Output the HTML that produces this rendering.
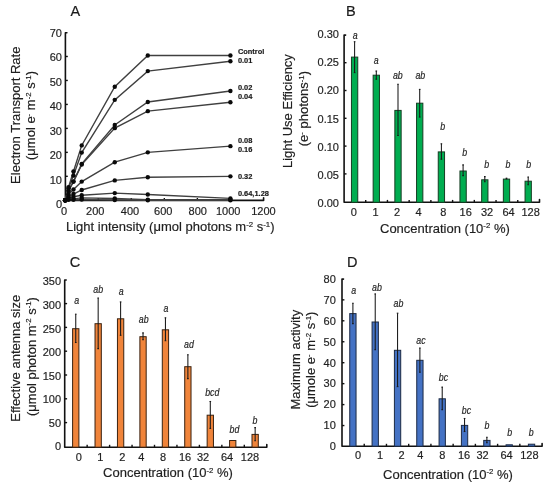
<!DOCTYPE html>
<html><head><meta charset="utf-8"><style>
html,body{margin:0;padding:0;background:#fff;}
svg{display:block;font-family:"Liberation Sans", sans-serif;filter:blur(0.3px);}
text{stroke:#1f1f1f;stroke-width:0.18px;}
</style></head><body>
<svg width="550" height="488" viewBox="0 0 550 488">
<rect width="550" height="488" fill="#fff"/>
<path d="M66.90,32.71 L65.40,32.71 L65.40,200.40 L263.60,200.40 L263.60,197.70" fill="none" stroke="#111" stroke-width="1.6" stroke-linejoin="round" stroke-linecap="round"/>
<line x1="65.40" y1="176.33" x2="67.80" y2="176.33" stroke="#111" stroke-width="1.4"/>
<line x1="65.40" y1="152.36" x2="67.80" y2="152.36" stroke="#111" stroke-width="1.4"/>
<line x1="65.40" y1="128.39" x2="67.80" y2="128.39" stroke="#111" stroke-width="1.4"/>
<line x1="65.40" y1="104.42" x2="67.80" y2="104.42" stroke="#111" stroke-width="1.4"/>
<line x1="65.40" y1="80.45" x2="67.80" y2="80.45" stroke="#111" stroke-width="1.4"/>
<line x1="65.40" y1="56.48" x2="67.80" y2="56.48" stroke="#111" stroke-width="1.4"/>
<line x1="98.24" y1="200.40" x2="98.24" y2="198.00" stroke="#111" stroke-width="1.4"/>
<line x1="131.28" y1="200.40" x2="131.28" y2="198.00" stroke="#111" stroke-width="1.4"/>
<line x1="164.32" y1="200.40" x2="164.32" y2="198.00" stroke="#111" stroke-width="1.4"/>
<line x1="197.36" y1="200.40" x2="197.36" y2="198.00" stroke="#111" stroke-width="1.4"/>
<line x1="230.40" y1="200.40" x2="230.40" y2="198.00" stroke="#111" stroke-width="1.4"/>
<text x="62.00" y="208.30" font-size="11" text-anchor="end" font-weight="normal" font-style="normal" fill="#1f1f1f" >0</text>
<text x="62.00" y="183.80" font-size="11" text-anchor="end" font-weight="normal" font-style="normal" fill="#1f1f1f" >10</text>
<text x="62.00" y="159.30" font-size="11" text-anchor="end" font-weight="normal" font-style="normal" fill="#1f1f1f" >20</text>
<text x="62.00" y="134.80" font-size="11" text-anchor="end" font-weight="normal" font-style="normal" fill="#1f1f1f" >30</text>
<text x="62.00" y="110.30" font-size="11" text-anchor="end" font-weight="normal" font-style="normal" fill="#1f1f1f" >40</text>
<text x="62.00" y="85.80" font-size="11" text-anchor="end" font-weight="normal" font-style="normal" fill="#1f1f1f" >50</text>
<text x="62.00" y="61.30" font-size="11" text-anchor="end" font-weight="normal" font-style="normal" fill="#1f1f1f" >60</text>
<text x="62.00" y="36.80" font-size="11" text-anchor="end" font-weight="normal" font-style="normal" fill="#1f1f1f" >70</text>
<text x="64.00" y="214.90" font-size="11" text-anchor="middle" font-weight="normal" font-style="normal" fill="#1f1f1f" >0</text>
<text x="95.20" y="214.90" font-size="11" text-anchor="middle" font-weight="normal" font-style="normal" fill="#1f1f1f" >200</text>
<text x="130.00" y="214.90" font-size="11" text-anchor="middle" font-weight="normal" font-style="normal" fill="#1f1f1f" >400</text>
<text x="163.30" y="214.90" font-size="11" text-anchor="middle" font-weight="normal" font-style="normal" fill="#1f1f1f" >600</text>
<text x="197.80" y="214.90" font-size="11" text-anchor="middle" font-weight="normal" font-style="normal" fill="#1f1f1f" >800</text>
<text x="228.20" y="214.90" font-size="11" text-anchor="middle" font-weight="normal" font-style="normal" fill="#1f1f1f" >1000</text>
<text x="263.40" y="214.90" font-size="11" text-anchor="middle" font-weight="normal" font-style="normal" fill="#1f1f1f" >1200</text>
<polyline points="65.20,200.30 68.50,187.12 73.46,171.54 81.72,145.41 114.76,86.68 147.80,55.52 230.40,55.52" fill="none" stroke="#404040" stroke-width="1.4"/>
<polyline points="65.20,200.30 68.50,188.31 73.46,175.61 81.72,152.60 114.76,99.87 147.80,71.10 230.40,61.27" fill="none" stroke="#404040" stroke-width="1.4"/>
<polyline points="65.20,200.30 68.50,190.71 73.46,181.60 81.72,163.87 114.76,125.03 147.80,102.02 230.40,91.00" fill="none" stroke="#404040" stroke-width="1.4"/>
<polyline points="65.20,200.30 68.50,190.71 73.46,181.60 81.72,164.58 114.76,128.15 147.80,111.13 230.40,102.26" fill="none" stroke="#404040" stroke-width="1.4"/>
<polyline points="65.20,200.30 68.50,194.31 73.46,189.51 81.72,181.60 114.76,162.19 147.80,152.36 230.40,146.13" fill="none" stroke="#404040" stroke-width="1.4"/>
<polyline points="65.20,200.30 68.50,196.70 73.46,194.07 81.72,189.99 114.76,180.40 147.80,177.29 230.40,176.33" fill="none" stroke="#404040" stroke-width="1.4"/>
<polyline points="65.20,200.30 68.50,197.90 73.46,196.70 81.72,195.27 114.76,193.11 147.80,194.55 230.40,198.38" fill="none" stroke="#404040" stroke-width="1.4"/>
<polyline points="65.20,200.30 68.50,199.10 73.46,198.86 81.72,197.90 114.76,198.50 147.80,199.58 230.40,199.70" fill="none" stroke="#404040" stroke-width="1.4"/>
<polyline points="65.20,200.30 68.50,199.82 73.46,199.82 81.72,199.58 114.76,200.06 147.80,200.30 230.40,200.30" fill="none" stroke="#404040" stroke-width="1.4"/>
<circle cx="65.20" cy="200.30" r="2.2" fill="#0a0a0a"/>
<circle cx="68.50" cy="187.12" r="2.2" fill="#0a0a0a"/>
<circle cx="73.46" cy="171.54" r="2.2" fill="#0a0a0a"/>
<circle cx="81.72" cy="145.41" r="2.2" fill="#0a0a0a"/>
<circle cx="114.76" cy="86.68" r="2.2" fill="#0a0a0a"/>
<circle cx="147.80" cy="55.52" r="2.2" fill="#0a0a0a"/>
<circle cx="230.40" cy="55.52" r="2.2" fill="#0a0a0a"/>
<circle cx="65.20" cy="200.30" r="2.2" fill="#0a0a0a"/>
<circle cx="68.50" cy="188.31" r="2.2" fill="#0a0a0a"/>
<circle cx="73.46" cy="175.61" r="2.2" fill="#0a0a0a"/>
<circle cx="81.72" cy="152.60" r="2.2" fill="#0a0a0a"/>
<circle cx="114.76" cy="99.87" r="2.2" fill="#0a0a0a"/>
<circle cx="147.80" cy="71.10" r="2.2" fill="#0a0a0a"/>
<circle cx="230.40" cy="61.27" r="2.2" fill="#0a0a0a"/>
<circle cx="65.20" cy="200.30" r="2.2" fill="#0a0a0a"/>
<circle cx="68.50" cy="190.71" r="2.2" fill="#0a0a0a"/>
<circle cx="73.46" cy="181.60" r="2.2" fill="#0a0a0a"/>
<circle cx="81.72" cy="163.87" r="2.2" fill="#0a0a0a"/>
<circle cx="114.76" cy="125.03" r="2.2" fill="#0a0a0a"/>
<circle cx="147.80" cy="102.02" r="2.2" fill="#0a0a0a"/>
<circle cx="230.40" cy="91.00" r="2.2" fill="#0a0a0a"/>
<circle cx="65.20" cy="200.30" r="2.2" fill="#0a0a0a"/>
<circle cx="68.50" cy="190.71" r="2.2" fill="#0a0a0a"/>
<circle cx="73.46" cy="181.60" r="2.2" fill="#0a0a0a"/>
<circle cx="81.72" cy="164.58" r="2.2" fill="#0a0a0a"/>
<circle cx="114.76" cy="128.15" r="2.2" fill="#0a0a0a"/>
<circle cx="147.80" cy="111.13" r="2.2" fill="#0a0a0a"/>
<circle cx="230.40" cy="102.26" r="2.2" fill="#0a0a0a"/>
<circle cx="65.20" cy="200.30" r="2.2" fill="#0a0a0a"/>
<circle cx="68.50" cy="194.31" r="2.2" fill="#0a0a0a"/>
<circle cx="73.46" cy="189.51" r="2.2" fill="#0a0a0a"/>
<circle cx="81.72" cy="181.60" r="2.2" fill="#0a0a0a"/>
<circle cx="114.76" cy="162.19" r="2.2" fill="#0a0a0a"/>
<circle cx="147.80" cy="152.36" r="2.2" fill="#0a0a0a"/>
<circle cx="230.40" cy="146.13" r="2.2" fill="#0a0a0a"/>
<circle cx="65.20" cy="200.30" r="2.2" fill="#0a0a0a"/>
<circle cx="68.50" cy="196.70" r="2.2" fill="#0a0a0a"/>
<circle cx="73.46" cy="194.07" r="2.2" fill="#0a0a0a"/>
<circle cx="81.72" cy="189.99" r="2.2" fill="#0a0a0a"/>
<circle cx="114.76" cy="180.40" r="2.2" fill="#0a0a0a"/>
<circle cx="147.80" cy="177.29" r="2.2" fill="#0a0a0a"/>
<circle cx="230.40" cy="176.33" r="2.2" fill="#0a0a0a"/>
<circle cx="65.20" cy="200.30" r="2.2" fill="#0a0a0a"/>
<circle cx="68.50" cy="197.90" r="2.2" fill="#0a0a0a"/>
<circle cx="73.46" cy="196.70" r="2.2" fill="#0a0a0a"/>
<circle cx="81.72" cy="195.27" r="2.2" fill="#0a0a0a"/>
<circle cx="114.76" cy="193.11" r="2.2" fill="#0a0a0a"/>
<circle cx="147.80" cy="194.55" r="2.2" fill="#0a0a0a"/>
<circle cx="230.40" cy="198.38" r="2.2" fill="#0a0a0a"/>
<circle cx="65.20" cy="200.30" r="2.2" fill="#0a0a0a"/>
<circle cx="68.50" cy="199.10" r="2.2" fill="#0a0a0a"/>
<circle cx="73.46" cy="198.86" r="2.2" fill="#0a0a0a"/>
<circle cx="81.72" cy="197.90" r="2.2" fill="#0a0a0a"/>
<circle cx="114.76" cy="198.50" r="2.2" fill="#0a0a0a"/>
<circle cx="147.80" cy="199.58" r="2.2" fill="#0a0a0a"/>
<circle cx="230.40" cy="199.70" r="2.2" fill="#0a0a0a"/>
<circle cx="65.20" cy="200.30" r="2.2" fill="#0a0a0a"/>
<circle cx="68.50" cy="199.82" r="2.2" fill="#0a0a0a"/>
<circle cx="73.46" cy="199.82" r="2.2" fill="#0a0a0a"/>
<circle cx="81.72" cy="199.58" r="2.2" fill="#0a0a0a"/>
<circle cx="114.76" cy="200.06" r="2.2" fill="#0a0a0a"/>
<circle cx="147.80" cy="200.30" r="2.2" fill="#0a0a0a"/>
<circle cx="230.40" cy="200.30" r="2.2" fill="#0a0a0a"/>
<text x="237.90" y="54.10" font-size="7.45" text-anchor="start" font-weight="bold" font-style="normal" fill="#1a1a1a" >Control</text>
<text x="237.90" y="63.00" font-size="7.45" text-anchor="start" font-weight="bold" font-style="normal" fill="#1a1a1a" >0.01</text>
<text x="237.90" y="89.90" font-size="7.45" text-anchor="start" font-weight="bold" font-style="normal" fill="#1a1a1a" >0.02</text>
<text x="237.90" y="98.50" font-size="7.45" text-anchor="start" font-weight="bold" font-style="normal" fill="#1a1a1a" >0.04</text>
<text x="237.90" y="143.00" font-size="7.45" text-anchor="start" font-weight="bold" font-style="normal" fill="#1a1a1a" >0.08</text>
<text x="237.90" y="152.00" font-size="7.45" text-anchor="start" font-weight="bold" font-style="normal" fill="#1a1a1a" >0.16</text>
<text x="237.90" y="178.50" font-size="7.45" text-anchor="start" font-weight="bold" font-style="normal" fill="#1a1a1a" >0.32</text>
<text x="237.90" y="196.40" font-size="7.45" text-anchor="start" font-weight="bold" font-style="normal" fill="#1a1a1a" >0.64,1.28</text>
<text x="70.60" y="16.30" font-size="14.5" text-anchor="start" font-weight="normal" font-style="normal" fill="#1a1a1a" >A</text>
<text transform="translate(20.20,115.25) rotate(-90)" x="0" y="0" font-size="13" text-anchor="middle" fill="#1f1f1f">Electron Transport Rate</text>
<text transform="translate(35.10,115.50) rotate(-90)" x="0" y="0" font-size="13" text-anchor="middle" fill="#1f1f1f">(μmol e<tspan font-size="7.8" dy="-4.2">-</tspan><tspan dy="4.2"> m<tspan font-size="7.8" dy="-4.2">-2</tspan><tspan dy="4.2"> s<tspan font-size="7.8" dy="-4.2">-1</tspan><tspan dy="4.2">)</tspan></tspan></tspan></text>
<text x="66" y="231.4" font-size="13" fill="#1f1f1f">Light intensity (μmol photons m<tspan font-size="7.8" dy="-4.2">-2</tspan><tspan dy="4.2"> s<tspan font-size="7.8" dy="-4.2">-1</tspan><tspan dy="4.2">)</tspan></tspan></text>
<path d="M345.60,35.10 L344.10,35.10 L344.10,202.30 L539.50,202.30 L539.50,199.60" fill="none" stroke="#111" stroke-width="1.6" stroke-linejoin="round" stroke-linecap="round"/>
<line x1="344.10" y1="173.90" x2="346.50" y2="173.90" stroke="#111" stroke-width="1.4"/>
<line x1="344.10" y1="146.10" x2="346.50" y2="146.10" stroke="#111" stroke-width="1.4"/>
<line x1="344.10" y1="118.30" x2="346.50" y2="118.30" stroke="#111" stroke-width="1.4"/>
<line x1="344.10" y1="90.50" x2="346.50" y2="90.50" stroke="#111" stroke-width="1.4"/>
<line x1="344.10" y1="62.70" x2="346.50" y2="62.70" stroke="#111" stroke-width="1.4"/>
<line x1="365.72" y1="202.30" x2="365.72" y2="199.90" stroke="#111" stroke-width="1.4"/>
<line x1="387.44" y1="202.30" x2="387.44" y2="199.90" stroke="#111" stroke-width="1.4"/>
<line x1="409.16" y1="202.30" x2="409.16" y2="199.90" stroke="#111" stroke-width="1.4"/>
<line x1="430.88" y1="202.30" x2="430.88" y2="199.90" stroke="#111" stroke-width="1.4"/>
<line x1="452.60" y1="202.30" x2="452.60" y2="199.90" stroke="#111" stroke-width="1.4"/>
<line x1="474.32" y1="202.30" x2="474.32" y2="199.90" stroke="#111" stroke-width="1.4"/>
<line x1="496.04" y1="202.30" x2="496.04" y2="199.90" stroke="#111" stroke-width="1.4"/>
<line x1="517.76" y1="202.30" x2="517.76" y2="199.90" stroke="#111" stroke-width="1.4"/>
<text x="339.00" y="207.00" font-size="11" text-anchor="end" font-weight="normal" font-style="normal" fill="#1f1f1f" >0.00</text>
<text x="339.00" y="178.84" font-size="11" text-anchor="end" font-weight="normal" font-style="normal" fill="#1f1f1f" >0.05</text>
<text x="339.00" y="150.67" font-size="11" text-anchor="end" font-weight="normal" font-style="normal" fill="#1f1f1f" >0.10</text>
<text x="339.00" y="122.50" font-size="11" text-anchor="end" font-weight="normal" font-style="normal" fill="#1f1f1f" >0.15</text>
<text x="339.00" y="94.34" font-size="11" text-anchor="end" font-weight="normal" font-style="normal" fill="#1f1f1f" >0.20</text>
<text x="339.00" y="66.17" font-size="11" text-anchor="end" font-weight="normal" font-style="normal" fill="#1f1f1f" >0.25</text>
<text x="339.00" y="38.01" font-size="11" text-anchor="end" font-weight="normal" font-style="normal" fill="#1f1f1f" >0.30</text>
<text x="353.90" y="216.00" font-size="11" text-anchor="middle" font-weight="normal" font-style="normal" fill="#1f1f1f" >0</text>
<text x="375.50" y="216.00" font-size="11" text-anchor="middle" font-weight="normal" font-style="normal" fill="#1f1f1f" >1</text>
<text x="397.10" y="216.00" font-size="11" text-anchor="middle" font-weight="normal" font-style="normal" fill="#1f1f1f" >2</text>
<text x="418.50" y="216.00" font-size="11" text-anchor="middle" font-weight="normal" font-style="normal" fill="#1f1f1f" >4</text>
<text x="443.40" y="216.00" font-size="11" text-anchor="middle" font-weight="normal" font-style="normal" fill="#1f1f1f" >8</text>
<text x="465.70" y="216.00" font-size="11" text-anchor="middle" font-weight="normal" font-style="normal" fill="#1f1f1f" >16</text>
<text x="487.00" y="216.00" font-size="11" text-anchor="middle" font-weight="normal" font-style="normal" fill="#1f1f1f" >32</text>
<text x="508.60" y="216.00" font-size="11" text-anchor="middle" font-weight="normal" font-style="normal" fill="#1f1f1f" >64</text>
<text x="530.60" y="216.00" font-size="11" text-anchor="middle" font-weight="normal" font-style="normal" fill="#1f1f1f" >128</text>
<rect x="351.45" y="57.10" width="6.30" height="145.20" fill="#00ad50" stroke="#163d22" stroke-width="1"/>
<rect x="373.15" y="75.20" width="6.30" height="127.10" fill="#00ad50" stroke="#163d22" stroke-width="1"/>
<rect x="394.85" y="110.40" width="6.30" height="91.90" fill="#00ad50" stroke="#163d22" stroke-width="1"/>
<rect x="416.55" y="103.20" width="6.30" height="99.10" fill="#00ad50" stroke="#163d22" stroke-width="1"/>
<rect x="438.25" y="151.90" width="6.30" height="50.40" fill="#00ad50" stroke="#163d22" stroke-width="1"/>
<rect x="459.95" y="171.00" width="6.30" height="31.30" fill="#00ad50" stroke="#163d22" stroke-width="1"/>
<rect x="481.65" y="179.80" width="6.30" height="22.50" fill="#00ad50" stroke="#163d22" stroke-width="1"/>
<rect x="503.35" y="179.10" width="6.30" height="23.20" fill="#00ad50" stroke="#163d22" stroke-width="1"/>
<rect x="525.05" y="181.20" width="6.30" height="21.10" fill="#00ad50" stroke="#163d22" stroke-width="1"/>
<line x1="354.60" y1="41.70" x2="354.60" y2="72.60" stroke="#181818" stroke-width="1.05"/>
<line x1="353.80" y1="41.70" x2="355.40" y2="41.70" stroke="#181818" stroke-width="1.1"/>
<line x1="353.80" y1="72.60" x2="355.40" y2="72.60" stroke="#181818" stroke-width="1.1"/>
<line x1="376.30" y1="71.00" x2="376.30" y2="79.20" stroke="#181818" stroke-width="1.05"/>
<line x1="375.50" y1="71.00" x2="377.10" y2="71.00" stroke="#181818" stroke-width="1.1"/>
<line x1="375.50" y1="79.20" x2="377.10" y2="79.20" stroke="#181818" stroke-width="1.1"/>
<line x1="398.00" y1="84.30" x2="398.00" y2="135.50" stroke="#181818" stroke-width="1.05"/>
<line x1="397.20" y1="84.30" x2="398.80" y2="84.30" stroke="#181818" stroke-width="1.1"/>
<line x1="397.20" y1="135.50" x2="398.80" y2="135.50" stroke="#181818" stroke-width="1.1"/>
<line x1="419.70" y1="89.40" x2="419.70" y2="117.10" stroke="#181818" stroke-width="1.05"/>
<line x1="418.90" y1="89.40" x2="420.50" y2="89.40" stroke="#181818" stroke-width="1.1"/>
<line x1="418.90" y1="117.10" x2="420.50" y2="117.10" stroke="#181818" stroke-width="1.1"/>
<line x1="441.40" y1="143.80" x2="441.40" y2="159.20" stroke="#181818" stroke-width="1.05"/>
<line x1="440.60" y1="143.80" x2="442.20" y2="143.80" stroke="#181818" stroke-width="1.1"/>
<line x1="440.60" y1="159.20" x2="442.20" y2="159.20" stroke="#181818" stroke-width="1.1"/>
<line x1="463.10" y1="164.90" x2="463.10" y2="175.60" stroke="#181818" stroke-width="1.05"/>
<line x1="462.30" y1="164.90" x2="463.90" y2="164.90" stroke="#181818" stroke-width="1.1"/>
<line x1="462.30" y1="175.60" x2="463.90" y2="175.60" stroke="#181818" stroke-width="1.1"/>
<line x1="484.80" y1="176.60" x2="484.80" y2="181.70" stroke="#181818" stroke-width="1.05"/>
<line x1="484.00" y1="176.60" x2="485.60" y2="176.60" stroke="#181818" stroke-width="1.1"/>
<line x1="484.00" y1="181.70" x2="485.60" y2="181.70" stroke="#181818" stroke-width="1.1"/>
<line x1="506.50" y1="178.20" x2="506.50" y2="178.90" stroke="#181818" stroke-width="1.05"/>
<line x1="505.70" y1="178.20" x2="507.30" y2="178.20" stroke="#181818" stroke-width="1.1"/>
<line x1="505.70" y1="178.90" x2="507.30" y2="178.90" stroke="#181818" stroke-width="1.1"/>
<line x1="528.20" y1="177.00" x2="528.20" y2="184.70" stroke="#181818" stroke-width="1.05"/>
<line x1="527.40" y1="177.00" x2="529.00" y2="177.00" stroke="#181818" stroke-width="1.1"/>
<line x1="527.40" y1="184.70" x2="529.00" y2="184.70" stroke="#181818" stroke-width="1.1"/>
<text transform="translate(355.20,38.90) scale(0.8,1)" font-size="11" text-anchor="middle" font-style="italic" fill="#1f1f1f" stroke="#1f1f1f" stroke-width="0.3">a</text>
<text transform="translate(376.30,63.50) scale(0.8,1)" font-size="11" text-anchor="middle" font-style="italic" fill="#1f1f1f" stroke="#1f1f1f" stroke-width="0.3">a</text>
<text transform="translate(397.80,78.50) scale(0.8,1)" font-size="11" text-anchor="middle" font-style="italic" fill="#1f1f1f" stroke="#1f1f1f" stroke-width="0.3">ab</text>
<text transform="translate(420.30,78.50) scale(0.8,1)" font-size="11" text-anchor="middle" font-style="italic" fill="#1f1f1f" stroke="#1f1f1f" stroke-width="0.3">ab</text>
<text transform="translate(442.70,130.20) scale(0.8,1)" font-size="11" text-anchor="middle" font-style="italic" fill="#1f1f1f" stroke="#1f1f1f" stroke-width="0.3">b</text>
<text transform="translate(464.80,156.40) scale(0.8,1)" font-size="11" text-anchor="middle" font-style="italic" fill="#1f1f1f" stroke="#1f1f1f" stroke-width="0.3">b</text>
<text transform="translate(486.80,168.10) scale(0.8,1)" font-size="11" text-anchor="middle" font-style="italic" fill="#1f1f1f" stroke="#1f1f1f" stroke-width="0.3">b</text>
<text transform="translate(507.90,167.90) scale(0.8,1)" font-size="11" text-anchor="middle" font-style="italic" fill="#1f1f1f" stroke="#1f1f1f" stroke-width="0.3">b</text>
<text transform="translate(528.80,167.90) scale(0.8,1)" font-size="11" text-anchor="middle" font-style="italic" fill="#1f1f1f" stroke="#1f1f1f" stroke-width="0.3">b</text>
<text x="345.90" y="16.30" font-size="14.5" text-anchor="start" font-weight="normal" font-style="normal" fill="#1a1a1a" >B</text>
<text transform="translate(291.90,111.10) rotate(-90)" x="0" y="0" font-size="13" text-anchor="middle" fill="#1f1f1f">Light Use Efficiency</text>
<text transform="translate(308.10,108.60) rotate(-90)" x="0" y="0" font-size="13" text-anchor="middle" fill="#1f1f1f">(e<tspan font-size="7.8" dy="-4.2">-</tspan><tspan dy="4.2"> photons<tspan font-size="7.8" dy="-4.2">-1</tspan><tspan dy="4.2">)</tspan></tspan></text>
<text x="380" y="232.6" font-size="13" fill="#1f1f1f">Concentration (10<tspan font-size="7.8" dy="-4.2">-2</tspan><tspan dy="4.2"> %)</tspan></text>
<path d="M66.20,280.00 L64.70,280.00 L64.70,447.20 L266.80,447.20 L266.80,444.50" fill="none" stroke="#111" stroke-width="1.6" stroke-linejoin="round" stroke-linecap="round"/>
<line x1="64.70" y1="422.60" x2="67.10" y2="422.60" stroke="#111" stroke-width="1.4"/>
<line x1="64.70" y1="398.80" x2="67.10" y2="398.80" stroke="#111" stroke-width="1.4"/>
<line x1="64.70" y1="375.00" x2="67.10" y2="375.00" stroke="#111" stroke-width="1.4"/>
<line x1="64.70" y1="351.20" x2="67.10" y2="351.20" stroke="#111" stroke-width="1.4"/>
<line x1="64.70" y1="327.40" x2="67.10" y2="327.40" stroke="#111" stroke-width="1.4"/>
<line x1="64.70" y1="303.60" x2="67.10" y2="303.60" stroke="#111" stroke-width="1.4"/>
<line x1="87.15" y1="447.20" x2="87.15" y2="444.80" stroke="#111" stroke-width="1.4"/>
<line x1="109.60" y1="447.20" x2="109.60" y2="444.80" stroke="#111" stroke-width="1.4"/>
<line x1="132.05" y1="447.20" x2="132.05" y2="444.80" stroke="#111" stroke-width="1.4"/>
<line x1="154.50" y1="447.20" x2="154.50" y2="444.80" stroke="#111" stroke-width="1.4"/>
<line x1="176.95" y1="447.20" x2="176.95" y2="444.80" stroke="#111" stroke-width="1.4"/>
<line x1="199.40" y1="447.20" x2="199.40" y2="444.80" stroke="#111" stroke-width="1.4"/>
<line x1="221.85" y1="447.20" x2="221.85" y2="444.80" stroke="#111" stroke-width="1.4"/>
<line x1="244.30" y1="447.20" x2="244.30" y2="444.80" stroke="#111" stroke-width="1.4"/>
<text x="61.10" y="450.30" font-size="11" text-anchor="end" font-weight="normal" font-style="normal" fill="#1f1f1f" >0</text>
<text x="61.10" y="426.75" font-size="11" text-anchor="end" font-weight="normal" font-style="normal" fill="#1f1f1f" >50</text>
<text x="61.10" y="403.21" font-size="11" text-anchor="end" font-weight="normal" font-style="normal" fill="#1f1f1f" >100</text>
<text x="61.10" y="379.67" font-size="11" text-anchor="end" font-weight="normal" font-style="normal" fill="#1f1f1f" >150</text>
<text x="61.10" y="356.12" font-size="11" text-anchor="end" font-weight="normal" font-style="normal" fill="#1f1f1f" >200</text>
<text x="61.10" y="332.57" font-size="11" text-anchor="end" font-weight="normal" font-style="normal" fill="#1f1f1f" >250</text>
<text x="61.10" y="309.03" font-size="11" text-anchor="end" font-weight="normal" font-style="normal" fill="#1f1f1f" >300</text>
<text x="61.10" y="285.49" font-size="11" text-anchor="end" font-weight="normal" font-style="normal" fill="#1f1f1f" >350</text>
<text x="78.80" y="461.30" font-size="11" text-anchor="middle" font-weight="normal" font-style="normal" fill="#1f1f1f" >0</text>
<text x="100.30" y="461.30" font-size="11" text-anchor="middle" font-weight="normal" font-style="normal" fill="#1f1f1f" >1</text>
<text x="122.20" y="461.30" font-size="11" text-anchor="middle" font-weight="normal" font-style="normal" fill="#1f1f1f" >2</text>
<text x="141.20" y="461.30" font-size="11" text-anchor="middle" font-weight="normal" font-style="normal" fill="#1f1f1f" >4</text>
<text x="163.10" y="461.30" font-size="11" text-anchor="middle" font-weight="normal" font-style="normal" fill="#1f1f1f" >8</text>
<text x="185.00" y="461.30" font-size="11" text-anchor="middle" font-weight="normal" font-style="normal" fill="#1f1f1f" >16</text>
<text x="203.00" y="461.30" font-size="11" text-anchor="middle" font-weight="normal" font-style="normal" fill="#1f1f1f" >32</text>
<text x="227.00" y="461.30" font-size="11" text-anchor="middle" font-weight="normal" font-style="normal" fill="#1f1f1f" >64</text>
<text x="250.00" y="461.30" font-size="11" text-anchor="middle" font-weight="normal" font-style="normal" fill="#1f1f1f" >128</text>
<rect x="72.60" y="328.70" width="6.30" height="118.50" fill="#f0843a" stroke="#3a2210" stroke-width="1"/>
<rect x="95.02" y="323.70" width="6.30" height="123.50" fill="#f0843a" stroke="#3a2210" stroke-width="1"/>
<rect x="117.45" y="318.80" width="6.30" height="128.40" fill="#f0843a" stroke="#3a2210" stroke-width="1"/>
<rect x="139.88" y="336.70" width="6.30" height="110.50" fill="#f0843a" stroke="#3a2210" stroke-width="1"/>
<rect x="162.30" y="329.80" width="6.30" height="117.40" fill="#f0843a" stroke="#3a2210" stroke-width="1"/>
<rect x="184.72" y="366.70" width="6.30" height="80.50" fill="#f0843a" stroke="#3a2210" stroke-width="1"/>
<rect x="207.15" y="415.20" width="6.30" height="32.00" fill="#f0843a" stroke="#3a2210" stroke-width="1"/>
<rect x="229.57" y="440.50" width="6.30" height="6.70" fill="#f0843a" stroke="#3a2210" stroke-width="1"/>
<rect x="252.00" y="434.40" width="6.30" height="12.80" fill="#f0843a" stroke="#3a2210" stroke-width="1"/>
<line x1="75.75" y1="314.20" x2="75.75" y2="342.50" stroke="#181818" stroke-width="1.05"/>
<line x1="74.95" y1="314.20" x2="76.55" y2="314.20" stroke="#181818" stroke-width="1.1"/>
<line x1="74.95" y1="342.50" x2="76.55" y2="342.50" stroke="#181818" stroke-width="1.1"/>
<line x1="98.17" y1="298.00" x2="98.17" y2="348.60" stroke="#181818" stroke-width="1.05"/>
<line x1="97.38" y1="298.00" x2="98.97" y2="298.00" stroke="#181818" stroke-width="1.1"/>
<line x1="97.38" y1="348.60" x2="98.97" y2="348.60" stroke="#181818" stroke-width="1.1"/>
<line x1="120.60" y1="301.90" x2="120.60" y2="335.30" stroke="#181818" stroke-width="1.05"/>
<line x1="119.80" y1="301.90" x2="121.40" y2="301.90" stroke="#181818" stroke-width="1.1"/>
<line x1="119.80" y1="335.30" x2="121.40" y2="335.30" stroke="#181818" stroke-width="1.1"/>
<line x1="143.03" y1="332.90" x2="143.03" y2="339.80" stroke="#181818" stroke-width="1.05"/>
<line x1="142.22" y1="332.90" x2="143.83" y2="332.90" stroke="#181818" stroke-width="1.1"/>
<line x1="142.22" y1="339.80" x2="143.83" y2="339.80" stroke="#181818" stroke-width="1.1"/>
<line x1="165.45" y1="317.80" x2="165.45" y2="340.70" stroke="#181818" stroke-width="1.05"/>
<line x1="164.65" y1="317.80" x2="166.25" y2="317.80" stroke="#181818" stroke-width="1.1"/>
<line x1="164.65" y1="340.70" x2="166.25" y2="340.70" stroke="#181818" stroke-width="1.1"/>
<line x1="187.88" y1="354.70" x2="187.88" y2="378.60" stroke="#181818" stroke-width="1.05"/>
<line x1="187.07" y1="354.70" x2="188.68" y2="354.70" stroke="#181818" stroke-width="1.1"/>
<line x1="187.07" y1="378.60" x2="188.68" y2="378.60" stroke="#181818" stroke-width="1.1"/>
<line x1="210.30" y1="401.50" x2="210.30" y2="428.40" stroke="#181818" stroke-width="1.05"/>
<line x1="209.50" y1="401.50" x2="211.10" y2="401.50" stroke="#181818" stroke-width="1.1"/>
<line x1="209.50" y1="428.40" x2="211.10" y2="428.40" stroke="#181818" stroke-width="1.1"/>
<line x1="255.15" y1="427.60" x2="255.15" y2="440.70" stroke="#181818" stroke-width="1.05"/>
<line x1="254.35" y1="427.60" x2="255.95" y2="427.60" stroke="#181818" stroke-width="1.1"/>
<line x1="254.35" y1="440.70" x2="255.95" y2="440.70" stroke="#181818" stroke-width="1.1"/>
<text transform="translate(76.70,303.90) scale(0.8,1)" font-size="11" text-anchor="middle" font-style="italic" fill="#1f1f1f" stroke="#1f1f1f" stroke-width="0.3">a</text>
<text transform="translate(98.20,293.00) scale(0.8,1)" font-size="11" text-anchor="middle" font-style="italic" fill="#1f1f1f" stroke="#1f1f1f" stroke-width="0.3">ab</text>
<text transform="translate(121.10,294.50) scale(0.8,1)" font-size="11" text-anchor="middle" font-style="italic" fill="#1f1f1f" stroke="#1f1f1f" stroke-width="0.3">a</text>
<text transform="translate(143.70,322.70) scale(0.8,1)" font-size="11" text-anchor="middle" font-style="italic" fill="#1f1f1f" stroke="#1f1f1f" stroke-width="0.3">ab</text>
<text transform="translate(166.00,311.90) scale(0.8,1)" font-size="11" text-anchor="middle" font-style="italic" fill="#1f1f1f" stroke="#1f1f1f" stroke-width="0.3">a</text>
<text transform="translate(188.90,348.20) scale(0.8,1)" font-size="11" text-anchor="middle" font-style="italic" fill="#1f1f1f" stroke="#1f1f1f" stroke-width="0.3">ad</text>
<text transform="translate(212.30,395.80) scale(0.8,1)" font-size="11" text-anchor="middle" font-style="italic" fill="#1f1f1f" stroke="#1f1f1f" stroke-width="0.3">bcd</text>
<text transform="translate(234.50,433.00) scale(0.8,1)" font-size="11" text-anchor="middle" font-style="italic" fill="#1f1f1f" stroke="#1f1f1f" stroke-width="0.3">bd</text>
<text transform="translate(254.90,423.50) scale(0.8,1)" font-size="11" text-anchor="middle" font-style="italic" fill="#1f1f1f" stroke="#1f1f1f" stroke-width="0.3">b</text>
<text x="69.70" y="266.80" font-size="14.5" text-anchor="start" font-weight="normal" font-style="normal" fill="#1a1a1a" >C</text>
<text transform="translate(19.80,358.30) rotate(-90)" x="0" y="0" font-size="13" text-anchor="middle" fill="#1f1f1f">Effective antenna size</text>
<text transform="translate(35.50,356.50) rotate(-90)" x="0" y="0" font-size="13" text-anchor="middle" fill="#1f1f1f">(μmol photon m<tspan font-size="7.8" dy="-4.2">-2</tspan><tspan dy="4.2"> s<tspan font-size="7.8" dy="-4.2">-1</tspan><tspan dy="4.2">)</tspan></tspan></text>
<text x="103.1" y="477.3" font-size="13" fill="#1f1f1f">Concentration (10<tspan font-size="7.8" dy="-4.2">-2</tspan><tspan dy="4.2"> %)</tspan></text>
<path d="M343.50,279.10 L342.00,279.10 L342.00,446.20 L542.10,446.20 L542.10,443.50" fill="none" stroke="#111" stroke-width="1.6" stroke-linejoin="round" stroke-linecap="round"/>
<line x1="342.00" y1="425.55" x2="344.40" y2="425.55" stroke="#111" stroke-width="1.4"/>
<line x1="342.00" y1="404.60" x2="344.40" y2="404.60" stroke="#111" stroke-width="1.4"/>
<line x1="342.00" y1="383.65" x2="344.40" y2="383.65" stroke="#111" stroke-width="1.4"/>
<line x1="342.00" y1="362.70" x2="344.40" y2="362.70" stroke="#111" stroke-width="1.4"/>
<line x1="342.00" y1="341.75" x2="344.40" y2="341.75" stroke="#111" stroke-width="1.4"/>
<line x1="342.00" y1="320.80" x2="344.40" y2="320.80" stroke="#111" stroke-width="1.4"/>
<line x1="342.00" y1="299.85" x2="344.40" y2="299.85" stroke="#111" stroke-width="1.4"/>
<line x1="364.23" y1="446.20" x2="364.23" y2="443.80" stroke="#111" stroke-width="1.4"/>
<line x1="386.46" y1="446.20" x2="386.46" y2="443.80" stroke="#111" stroke-width="1.4"/>
<line x1="408.69" y1="446.20" x2="408.69" y2="443.80" stroke="#111" stroke-width="1.4"/>
<line x1="430.92" y1="446.20" x2="430.92" y2="443.80" stroke="#111" stroke-width="1.4"/>
<line x1="453.15" y1="446.20" x2="453.15" y2="443.80" stroke="#111" stroke-width="1.4"/>
<line x1="475.38" y1="446.20" x2="475.38" y2="443.80" stroke="#111" stroke-width="1.4"/>
<line x1="497.61" y1="446.20" x2="497.61" y2="443.80" stroke="#111" stroke-width="1.4"/>
<line x1="519.84" y1="446.20" x2="519.84" y2="443.80" stroke="#111" stroke-width="1.4"/>
<text x="335.80" y="449.70" font-size="11" text-anchor="end" font-weight="normal" font-style="normal" fill="#1f1f1f" >0</text>
<text x="335.80" y="428.91" font-size="11" text-anchor="end" font-weight="normal" font-style="normal" fill="#1f1f1f" >10</text>
<text x="335.80" y="408.12" font-size="11" text-anchor="end" font-weight="normal" font-style="normal" fill="#1f1f1f" >20</text>
<text x="335.80" y="387.33" font-size="11" text-anchor="end" font-weight="normal" font-style="normal" fill="#1f1f1f" >30</text>
<text x="335.80" y="366.54" font-size="11" text-anchor="end" font-weight="normal" font-style="normal" fill="#1f1f1f" >40</text>
<text x="335.80" y="345.75" font-size="11" text-anchor="end" font-weight="normal" font-style="normal" fill="#1f1f1f" >50</text>
<text x="335.80" y="324.96" font-size="11" text-anchor="end" font-weight="normal" font-style="normal" fill="#1f1f1f" >60</text>
<text x="335.80" y="304.17" font-size="11" text-anchor="end" font-weight="normal" font-style="normal" fill="#1f1f1f" >70</text>
<text x="335.80" y="283.38" font-size="11" text-anchor="end" font-weight="normal" font-style="normal" fill="#1f1f1f" >80</text>
<text x="358.10" y="458.90" font-size="11" text-anchor="middle" font-weight="normal" font-style="normal" fill="#1f1f1f" >0</text>
<text x="380.10" y="458.90" font-size="11" text-anchor="middle" font-weight="normal" font-style="normal" fill="#1f1f1f" >1</text>
<text x="401.50" y="458.90" font-size="11" text-anchor="middle" font-weight="normal" font-style="normal" fill="#1f1f1f" >2</text>
<text x="420.20" y="458.90" font-size="11" text-anchor="middle" font-weight="normal" font-style="normal" fill="#1f1f1f" >4</text>
<text x="442.30" y="458.90" font-size="11" text-anchor="middle" font-weight="normal" font-style="normal" fill="#1f1f1f" >8</text>
<text x="464.00" y="458.90" font-size="11" text-anchor="middle" font-weight="normal" font-style="normal" fill="#1f1f1f" >16</text>
<text x="482.60" y="458.90" font-size="11" text-anchor="middle" font-weight="normal" font-style="normal" fill="#1f1f1f" >32</text>
<text x="506.60" y="458.90" font-size="11" text-anchor="middle" font-weight="normal" font-style="normal" fill="#1f1f1f" >64</text>
<text x="529.40" y="458.90" font-size="11" text-anchor="middle" font-weight="normal" font-style="normal" fill="#1f1f1f" >128</text>
<rect x="349.75" y="313.60" width="6.30" height="132.60" fill="#4472c4" stroke="#1c2a44" stroke-width="1"/>
<rect x="372.08" y="322.00" width="6.30" height="124.20" fill="#4472c4" stroke="#1c2a44" stroke-width="1"/>
<rect x="394.41" y="350.30" width="6.30" height="95.90" fill="#4472c4" stroke="#1c2a44" stroke-width="1"/>
<rect x="416.74" y="360.30" width="6.30" height="85.90" fill="#4472c4" stroke="#1c2a44" stroke-width="1"/>
<rect x="439.07" y="398.80" width="6.30" height="47.40" fill="#4472c4" stroke="#1c2a44" stroke-width="1"/>
<rect x="461.40" y="425.40" width="6.30" height="20.80" fill="#4472c4" stroke="#1c2a44" stroke-width="1"/>
<rect x="483.73" y="440.40" width="6.30" height="5.80" fill="#4472c4" stroke="#1c2a44" stroke-width="1"/>
<rect x="506.06" y="444.80" width="6.30" height="1.40" fill="#4472c4" stroke="#1c2a44" stroke-width="1"/>
<rect x="528.39" y="444.20" width="6.30" height="2.00" fill="#4472c4" stroke="#1c2a44" stroke-width="1"/>
<line x1="352.90" y1="303.20" x2="352.90" y2="323.60" stroke="#181818" stroke-width="1.05"/>
<line x1="352.10" y1="303.20" x2="353.70" y2="303.20" stroke="#181818" stroke-width="1.1"/>
<line x1="352.10" y1="323.60" x2="353.70" y2="323.60" stroke="#181818" stroke-width="1.1"/>
<line x1="375.23" y1="293.90" x2="375.23" y2="349.70" stroke="#181818" stroke-width="1.05"/>
<line x1="374.43" y1="293.90" x2="376.03" y2="293.90" stroke="#181818" stroke-width="1.1"/>
<line x1="374.43" y1="349.70" x2="376.03" y2="349.70" stroke="#181818" stroke-width="1.1"/>
<line x1="397.56" y1="313.20" x2="397.56" y2="386.60" stroke="#181818" stroke-width="1.05"/>
<line x1="396.76" y1="313.20" x2="398.36" y2="313.20" stroke="#181818" stroke-width="1.1"/>
<line x1="396.76" y1="386.60" x2="398.36" y2="386.60" stroke="#181818" stroke-width="1.1"/>
<line x1="419.89" y1="348.00" x2="419.89" y2="372.20" stroke="#181818" stroke-width="1.05"/>
<line x1="419.09" y1="348.00" x2="420.69" y2="348.00" stroke="#181818" stroke-width="1.1"/>
<line x1="419.09" y1="372.20" x2="420.69" y2="372.20" stroke="#181818" stroke-width="1.1"/>
<line x1="442.22" y1="387.10" x2="442.22" y2="409.70" stroke="#181818" stroke-width="1.05"/>
<line x1="441.42" y1="387.10" x2="443.02" y2="387.10" stroke="#181818" stroke-width="1.1"/>
<line x1="441.42" y1="409.70" x2="443.02" y2="409.70" stroke="#181818" stroke-width="1.1"/>
<line x1="464.55" y1="418.50" x2="464.55" y2="431.50" stroke="#181818" stroke-width="1.05"/>
<line x1="463.75" y1="418.50" x2="465.35" y2="418.50" stroke="#181818" stroke-width="1.1"/>
<line x1="463.75" y1="431.50" x2="465.35" y2="431.50" stroke="#181818" stroke-width="1.1"/>
<line x1="486.88" y1="437.20" x2="486.88" y2="442.80" stroke="#181818" stroke-width="1.05"/>
<line x1="486.08" y1="437.20" x2="487.68" y2="437.20" stroke="#181818" stroke-width="1.1"/>
<line x1="486.08" y1="442.80" x2="487.68" y2="442.80" stroke="#181818" stroke-width="1.1"/>
<text transform="translate(353.70,294.10) scale(0.8,1)" font-size="11" text-anchor="middle" font-style="italic" fill="#1f1f1f" stroke="#1f1f1f" stroke-width="0.3">a</text>
<text transform="translate(376.90,291.40) scale(0.8,1)" font-size="11" text-anchor="middle" font-style="italic" fill="#1f1f1f" stroke="#1f1f1f" stroke-width="0.3">ab</text>
<text transform="translate(398.40,306.80) scale(0.8,1)" font-size="11" text-anchor="middle" font-style="italic" fill="#1f1f1f" stroke="#1f1f1f" stroke-width="0.3">ab</text>
<text transform="translate(420.90,343.70) scale(0.8,1)" font-size="11" text-anchor="middle" font-style="italic" fill="#1f1f1f" stroke="#1f1f1f" stroke-width="0.3">ac</text>
<text transform="translate(443.40,380.70) scale(0.8,1)" font-size="11" text-anchor="middle" font-style="italic" fill="#1f1f1f" stroke="#1f1f1f" stroke-width="0.3">bc</text>
<text transform="translate(466.50,413.50) scale(0.8,1)" font-size="11" text-anchor="middle" font-style="italic" fill="#1f1f1f" stroke="#1f1f1f" stroke-width="0.3">bc</text>
<text transform="translate(486.90,428.90) scale(0.8,1)" font-size="11" text-anchor="middle" font-style="italic" fill="#1f1f1f" stroke="#1f1f1f" stroke-width="0.3">b</text>
<text transform="translate(509.80,436.10) scale(0.8,1)" font-size="11" text-anchor="middle" font-style="italic" fill="#1f1f1f" stroke="#1f1f1f" stroke-width="0.3">b</text>
<text transform="translate(531.10,436.10) scale(0.8,1)" font-size="11" text-anchor="middle" font-style="italic" fill="#1f1f1f" stroke="#1f1f1f" stroke-width="0.3">b</text>
<text x="346.90" y="266.90" font-size="14.5" text-anchor="start" font-weight="normal" font-style="normal" fill="#1a1a1a" >D</text>
<text transform="translate(299.50,359.70) rotate(-90)" x="0" y="0" font-size="13" text-anchor="middle" fill="#1f1f1f">Maximum activity</text>
<text transform="translate(315.00,359.70) rotate(-90)" x="0" y="0" font-size="13" text-anchor="middle" fill="#1f1f1f">(μmole e<tspan font-size="7.8" dy="-4.2">-</tspan><tspan dy="4.2"> m<tspan font-size="7.8" dy="-4.2">-2</tspan><tspan dy="4.2"> s<tspan font-size="7.8" dy="-4.2">-1</tspan><tspan dy="4.2">)</tspan></tspan></tspan></text>
<text x="383.1" y="478.5" font-size="13" fill="#1f1f1f">Concentration (10<tspan font-size="7.8" dy="-4.2">-2</tspan><tspan dy="4.2"> %)</tspan></text>
</svg></body></html>
